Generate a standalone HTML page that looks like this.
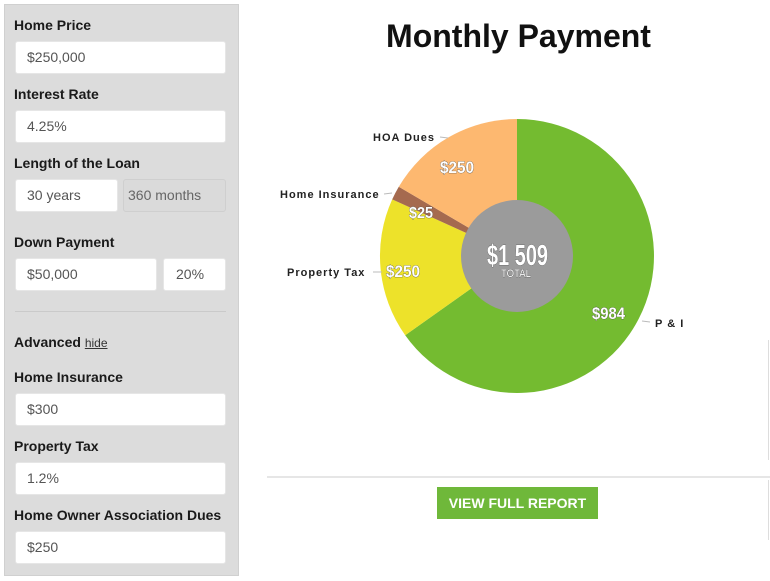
<!DOCTYPE html>
<html><head><meta charset="utf-8"><style>
*{margin:0;padding:0;box-sizing:border-box}
body{width:770px;height:581px;background:#fff;position:relative;overflow:hidden;font-family:"Liberation Sans",sans-serif}
.side{position:absolute;left:4px;top:4px;width:235px;height:572px;background:#dcdcdc;border:1px solid #d0d0d0}
.lbl{position:absolute;left:14px;font-weight:bold;font-size:14px;color:#1a1a1a}
.in{position:absolute;height:33px;background:#fff;border:1px solid #e6e6e6;border-radius:3px;font-size:14px;color:#555;padding-left:11px;line-height:31px}
.in.dis{background:#dadada;border-color:#cfcfcf;color:#666}
</style></head><body>
<div class="side"></div>
<div class="lbl" style="top:17px">Home Price</div>
<div class="in" style="left:15px;top:41px;width:211px">$250,000</div>
<div class="lbl" style="top:86px">Interest Rate</div>
<div class="in" style="left:15px;top:110px;width:211px">4.25%</div>
<div class="lbl" style="top:155px">Length of the Loan</div>
<div class="in" style="left:15px;top:179px;width:103px">30 years</div>
<div class="in dis" style="left:123px;top:179px;width:103px;padding-left:4px">360 months</div>
<div class="lbl" style="top:234px">Down Payment</div>
<div class="in" style="left:15px;top:258px;width:142px">$50,000</div>
<div class="in" style="left:163px;top:258px;width:63px;padding-left:12px">20%</div>
<div style="position:absolute;left:15px;top:311px;width:211px;height:1px;background:#cacaca"></div>
<div class="lbl" style="top:334px">Advanced <span style="font-weight:normal;font-size:12px;text-decoration:underline;color:#333">hide</span></div>
<div class="lbl" style="top:369px">Home Insurance</div>
<div class="in" style="left:15px;top:393px;width:211px">$300</div>
<div class="lbl" style="top:438px">Property Tax</div>
<div class="in" style="left:15px;top:462px;width:211px">1.2%</div>
<div class="lbl" style="top:507px">Home Owner Association Dues</div>
<div class="in" style="left:15px;top:531px;width:211px">$250</div>

<div style="position:absolute;left:267px;width:503px;top:18px;text-align:center;font-weight:bold;font-size:32px;color:#111">Monthly Payment</div>

<svg style="position:absolute;left:0;top:0" width="770" height="581">
<path d="M517,256 L517,119 A137,137 0 1,1 405.2,335.2 Z" fill="#74bb30"/>
<path d="M517,256 L405.2,335.2 A137,137 0 0,1 392.2,199.4 Z" fill="#ede22a"/>
<path d="M517,256 L392.2,199.4 A137,137 0 0,1 398.8,186.8 Z" fill="#a56a4f"/>
<path d="M517,256 L398.8,186.8 A137,137 0 0,1 517,119 Z" fill="#fdb870"/>
<circle cx="517" cy="256" r="56" fill="#9b9b9b"/>
<g font-family="Liberation Sans,sans-serif" font-weight="bold" fill="#fff" stroke="#444" stroke-width="0.6" paint-order="stroke">
<text x="440" y="173" font-size="17" textLength="34" lengthAdjust="spacingAndGlyphs">$250</text>
<text x="409" y="218" font-size="16" textLength="24" lengthAdjust="spacingAndGlyphs">$25</text>
<text x="386" y="277" font-size="17" textLength="34" lengthAdjust="spacingAndGlyphs">$250</text>
<text x="592" y="319" font-size="17" textLength="33" lengthAdjust="spacingAndGlyphs">$984</text>
<text x="487" y="265" font-size="29" textLength="61" lengthAdjust="spacingAndGlyphs">$1 509</text>
<text x="501" y="277" font-size="11" font-weight="normal" textLength="30" lengthAdjust="spacingAndGlyphs">TOTAL</text>
</g>
<g font-size="11" font-weight="bold" fill="#222" letter-spacing="1">
<text x="373" y="141">HOA Dues</text>
<text x="280" y="198">Home Insurance</text>
<text x="287" y="276">Property Tax</text>
<text x="655" y="327">P &amp; I</text>
</g>
<g stroke="#bbb" stroke-width="1">
<line x1="440" y1="137" x2="448" y2="138"/>
<line x1="384" y1="194" x2="392" y2="193"/>
<line x1="373" y1="272" x2="382" y2="272"/>
<line x1="642" y1="321" x2="650" y2="322"/>
</g>
<line x1="267" y1="477" x2="770" y2="477" stroke="#ddd" stroke-width="1.5"/>
<line x1="768.5" y1="340" x2="768.5" y2="460" stroke="#ddd"/>
<line x1="768.5" y1="480" x2="768.5" y2="540" stroke="#ddd"/>
</svg>
<div style="position:absolute;left:437px;top:487px;width:161px;height:32px;background:#6fb83a;color:#fff;font-weight:bold;font-size:14px;text-align:center;line-height:32px">VIEW FULL REPORT</div>
</body></html>
